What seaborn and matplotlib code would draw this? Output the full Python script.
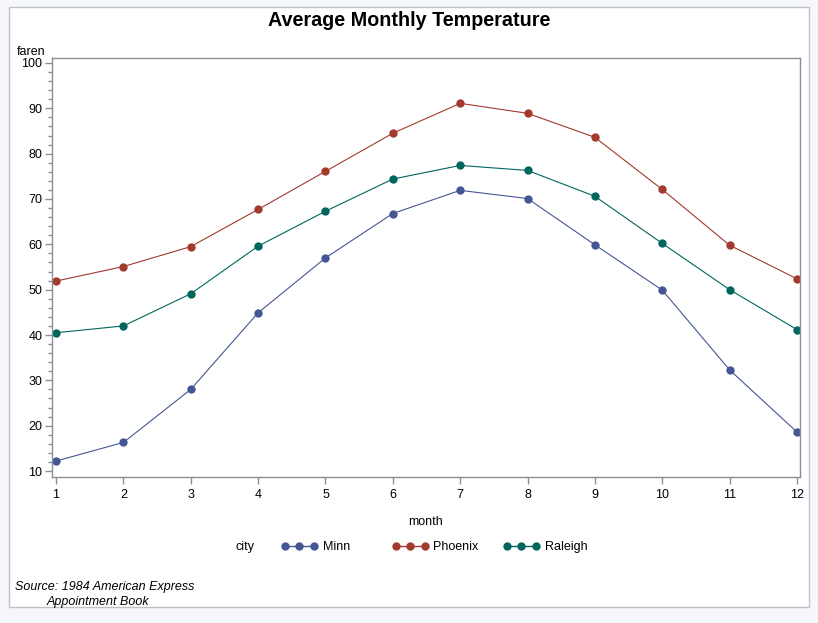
import numpy as np
import pandas as pd
import seaborn as sns
import matplotlib.pyplot as plt
from matplotlib.patches import Rectangle

# average monthly temperature (F)
months = list(range(1, 13))
minn = [12.2, 16.3, 28.0, 44.9, 57.0, 66.8, 71.9, 70.1, 59.9, 49.9, 32.3, 18.6]
phoenix = [51.9, 55.1, 59.5, 67.7, 76.1, 84.5, 91.1, 88.9, 83.6, 72.1, 59.8, 52.4]
raleigh = [40.5, 42.0, 49.1, 59.6, 67.3, 74.4, 77.4, 76.3, 70.6, 60.2, 50.0, 41.2]
cities = ['Minn', 'Phoenix', 'Raleigh']
colors = ['#445694', '#A23A2E', '#01665E']

df = pd.DataFrame({
    'month': months * 3,
    'faren': minn + phoenix + raleigh,
    'city': [c for c in cities for _ in months],
})

sns.set_style('white')
plt.rcParams['font.family'] = ['Liberation Sans', 'DejaVu Sans']
plt.rcParams['text.color'] = 'black'

fig = plt.figure(figsize=(8.18, 6.23), dpi=100)
fig.patch.set_facecolor('#F5F7FB')
fig.patches.append(Rectangle((9 / 818, 1 - 607 / 623), 800 / 818, 600 / 623,
                             transform=fig.transFigure, facecolor='white',
                             edgecolor='#BFC3C8', linewidth=1, zorder=-10))

ax = fig.add_axes([52 / 818, 1 - 477 / 623, 748 / 818, 419 / 623])
ax.set_zorder(1)
sns.lineplot(data=df, x='month', y='faren', hue='city', palette=colors,
             marker='o', markersize=6, markeredgewidth=0, linewidth=0.8,
             ax=ax, legend=False)

ax.set_xlim(0.94, 12.045)
ax.set_ylim(8.68, 101.1)
ax.set_xticks(months)
ax.set_yticks(range(10, 101, 10))
ax.set_yticks(np.arange(12, 100, 2), minor=True)
ax.tick_params(axis='both', which='major', length=5, width=1, color='#8A8F96',
               labelsize=9, labelcolor='black', bottom=True, left=True)
ax.tick_params(axis='y', which='major', pad=2)
ax.tick_params(axis='y', which='minor', length=3, width=1, color='#8A8F96', left=True)
for s in ax.spines.values():
    s.set_color('#8A8F96')
    s.set_linewidth(1)
ax.set_xlabel('')
ax.set_ylabel('')

fig.text(409 / 818, 1 - 20 / 623, 'Average Monthly Temperature', ha='center',
         va='center', fontsize=14.2, fontweight='bold')
fig.text(17 / 818, 1 - 52 / 623, 'faren', ha='left', va='center', fontsize=9)
fig.text(426 / 818, 1 - 522 / 623, 'month', ha='center', va='center', fontsize=9)
fig.text(236 / 818, 1 - 547 / 623, 'city', ha='left', va='center', fontsize=9)

# one legend per city so the entries sit at equal spacing
legend_x = [270, 381, 492]
for city, c, lx in zip(cities, colors, legend_x):
    h = plt.Line2D([], [], color=c, marker='o', markersize=6,
                   markeredgewidth=0, linewidth=1)
    fig.legend([h], [city], loc='center left', bbox_to_anchor=(lx / 818, 1 - 547 / 623),
               frameon=False, fontsize=9, numpoints=3, handlelength=2.9,
               handletextpad=0.4)

fig.text(15 / 818, 1 - 587 / 623, 'Source: 1984 American Express', ha='left',
         va='center', fontsize=9, style='italic')
fig.text(47 / 818, 1 - 602 / 623, 'Appointment Book', ha='left',
         va='center', fontsize=9, style='italic')

fig.savefig('out.png', dpi=100, facecolor=fig.get_facecolor())
